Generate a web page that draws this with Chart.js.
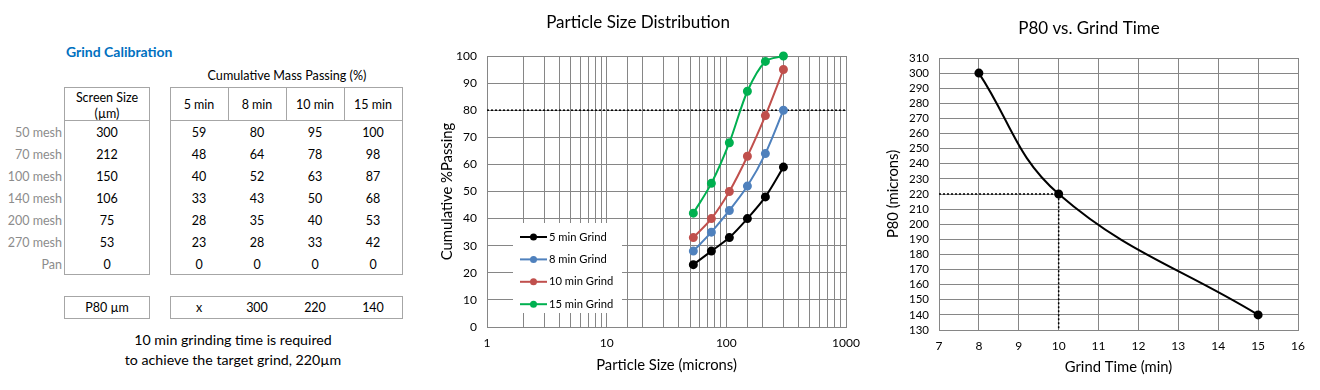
<!DOCTYPE html>
<html>
<head>
<meta charset="utf-8">
<script src="https://cdn.jsdelivr.net/npm/chart.js@4.4.1/dist/chart.umd.min.js"></script>
<style>
  body { margin: 0; background: #fff; font-family: Lato, "Noto Sans", sans-serif; }
  #page { position: relative; width: 1320px; height: 390px; overflow: hidden; }
  .t { position: absolute; white-space: nowrap; font-size: 12.5px; color: #000; }
  .c { transform: translate(-50%, -50%); }
  .r { transform: translate(-100%, -50%); }
  .box { position: absolute; border: 1px solid #a6a6a6; box-sizing: border-box; }
  .vl { position: absolute; width: 1px; background: #a6a6a6; }
  .hl { position: absolute; height: 1px; background: #a6a6a6; }
  canvas { position: absolute; top: 0; }
</style>
</head>
<body>
<div id="page">
  <canvas id="psd" width="440" height="390" style="left:430px"></canvas>
  <canvas id="p80" width="440" height="390" style="left:880px"></canvas>
</div>
<script>
// screens and sizes
const meshLabels = ['50 mesh', '70 mesh', '100 mesh', '140 mesh', '200 mesh', '270 mesh', 'Pan'];
const screenSizes = [300, 212, 150, 106, 75, 53, 0];
const grindTimes = [5, 8, 10, 15];
const grindLabels = ['5 min', '8 min', '10 min', '15 min'];

// cumulative mass passing (%) per grind time, same order as screenSizes
const pass5 = [59, 48, 40, 33, 28, 23, 0];
const pass8 = [80, 64, 52, 43, 35, 28, 0];
const pass10 = [95, 78, 63, 50, 40, 33, 0];
const pass15 = [100, 98, 87, 68, 53, 42, 0];
const passing = [pass5, pass8, pass10, pass15];

// P80 per grind time (5 min never reaches 80%)
const p80Values = [null, 300, 220, 140];
const targetGrind = 220;
const targetTime = 10;
const targetPassing = 80;

const seriesColors = ['#000000', '#4f81bd', '#c0504d', '#00b050'];
const gridColor = '#868686';

// ---------- table ----------
const page = document.getElementById('page');
function txt(s, x, y, cls, style) {
  const d = document.createElement('div');
  d.className = 't ' + cls;
  d.style.left = x + 'px';
  d.style.top = y + 'px';
  if (style) d.style.cssText += style;
  d.innerHTML = s;
  page.appendChild(d);
}
function el(cls, l, t, w, h) {
  const d = document.createElement('div');
  d.className = cls;
  d.style.left = l + 'px'; d.style.top = t + 'px';
  if (w != null) d.style.width = w + 'px';
  if (h != null) d.style.height = h + 'px';
  page.appendChild(d);
}

txt('Grind Calibration', 66, 51, '', 'transform:translateY(-50%);font-weight:bold;font-size:14px;color:#0070c0');
txt('Cumulative Mass Passing (%)', 287, 75, 'c', 'font-size:12.6px');

el('box', 64, 87, 86, 188);
el('box', 170, 87, 233, 188);
el('hl', 64, 120, 86);
el('hl', 170, 120, 233);
const colX = [199, 257, 315, 373];
[228, 286, 344].forEach(x => el('vl', x, 87, null, 33));
txt('Screen Size', 107, 97, 'c');
txt('(&micro;m)', 107, 113, 'c');
grindLabels.forEach((g, i) => txt(g, colX[i], 104, 'c'));

meshLabels.forEach((m, r) => {
  const y = 132 + r * 22;
  txt(m, 62, y, 'r', 'color:#8c8c8c');
  txt(screenSizes[r], 107, y, 'c');
  passing.forEach((s, i) => txt(s[r], colX[i], y, 'c'));
});

el('box', 64, 296, 86, 23);
el('box', 170, 296, 233, 23);
txt('P80 &micro;m', 107, 307, 'c');
p80Values.forEach((v, i) => txt(v == null ? 'x' : v, colX[i], 307, 'c'));

txt(targetTime + ' min grinding time is required', 233, 339, 'c', 'font-size:14.2px');
txt('to achieve the target grind, ' + targetGrind + '&micro;m', 233, 359, 'c', 'font-size:14.2px');

// ---------- charts ----------
Chart.defaults.font.family = 'Lato, "Noto Sans", sans-serif';
Chart.defaults.color = '#000';

const legendInside = {
  id: 'legendInside',
  afterDatasetsDraw(chart) {
    const ctx = chart.ctx;
    const a = chart.chartArea;
    const x0 = a.left + 26, y0 = a.top + 167;
    ctx.save();
    ctx.fillStyle = '#fff';
    ctx.fillRect(x0, y0, 109, 90);
    ctx.font = '11.2px Lato, "Noto Sans", sans-serif';
    ctx.textBaseline = 'middle';
    chart.data.datasets.filter(d => !d.isGuide).forEach((d, i) => {
      const y = y0 + 14 + i * 22.4;
      ctx.strokeStyle = d.borderColor;
      ctx.lineWidth = 2;
      ctx.beginPath(); ctx.moveTo(x0 + 7, y); ctx.lineTo(x0 + 34, y); ctx.stroke();
      ctx.fillStyle = d.borderColor;
      ctx.beginPath(); ctx.arc(x0 + 20.5, y, 3.5, 0, Math.PI * 2); ctx.fill();
      ctx.fillStyle = '#000';
      ctx.fillText(d.label, x0 + 36, y);
    });
    ctx.restore();
  }
};

const psdSets = passing.map((s, i) => ({
  label: grindLabels[i] + ' Grind',
  data: screenSizes.map((x, r) => ({ x: x, y: s[r] })).filter(p => p.x > 0),
  borderColor: seriesColors[i],
  backgroundColor: seriesColors[i],
  borderWidth: 2,
  pointRadius: 3.5,
  tension: 0.3,
  clip: 6
}));
psdSets.push({
  label: 'target',
  isGuide: true,
  data: [{ x: 1, y: targetPassing }, { x: 1000, y: targetPassing }],
  borderColor: '#000',
  borderWidth: 1.5,
  borderDash: [2, 2],
  pointRadius: 0
});

new Chart(document.getElementById('psd'), {
  type: 'line',
  data: { datasets: psdSets },
  options: {
    responsive: false,
    animation: false,
    layout: { padding: { top: 0, right: 24, bottom: 0, left: 0 } },
    plugins: {
      legend: { display: false },
      tooltip: { enabled: false },
      title: { display: true, text: 'Particle Size Distribution', font: { size: 17, weight: 'normal' }, padding: { top: 12, bottom: 23.6 } }
    },
    scales: {
      x: {
        type: 'logarithmic', min: 1, max: 1000,
        grid: { color: gridColor, drawTicks: false },
        border: { color: gridColor },
        ticks: {
          autoSkip: false, maxRotation: 0, padding: 9, font: { size: 12 },
          callback: v => Number.isInteger(Math.log10(v)) ? String(v) : ''
        },
        title: { display: true, text: 'Particle Size (microns)', font: { size: 14.8 }, padding: { top: 0, bottom: 16.2 } },
        afterFit: s => { s.height = 63; }
      },
      y: {
        min: 0, max: 100,
        grid: { color: gridColor, drawTicks: false },
        border: { color: gridColor },
        ticks: { stepSize: 10, padding: 10, autoSkip: false, font: { size: 12 } },
        title: { display: true, text: 'Cumulative %Passing', font: { size: 14.8 }, padding: { top: 8.2, bottom: 0 } },
        afterFit: s => { s.width = 57; }
      }
    }
  },
  plugins: [legendInside]
});

const p80Points = grindTimes.map((t, i) => ({ x: t, y: p80Values[i] })).filter(p => p.y != null);
const xMin = 7, xMax = 16, yMin = 130, yMax = 310;

new Chart(document.getElementById('p80'), {
  type: 'line',
  data: {
    datasets: [
      {
        label: 'P80',
        data: p80Points,
        borderColor: '#000', backgroundColor: '#000',
        borderWidth: 2, pointRadius: 3.5, tension: 0.4, clip: 6
      },
      {
        label: 'target',
        data: [{ x: xMin, y: targetGrind }, { x: targetTime, y: targetGrind }, { x: targetTime, y: yMin }],
        borderColor: '#000', borderWidth: 1.5, borderDash: [2, 2], pointRadius: 0
      }
    ]
  },
  options: {
    responsive: false,
    animation: false,
    layout: { padding: { top: 0, right: 22, bottom: 0, left: 0 } },
    plugins: {
      legend: { display: false },
      tooltip: { enabled: false },
      title: { display: true, text: 'P80 vs. Grind Time', font: { size: 17, weight: 'normal' }, padding: { top: 18.8, bottom: 18.8 } }
    },
    scales: {
      x: {
        type: 'linear', min: xMin, max: xMax,
        grid: { color: gridColor, drawTicks: false },
        border: { color: gridColor },
        ticks: { stepSize: 1, padding: 9, autoSkip: false, font: { size: 12 } },
        title: { display: true, text: 'Grind Time (min)', font: { size: 14.8 }, padding: { top: 0, bottom: 14.2 } },
        afterFit: s => { s.height = 60; }
      },
      y: {
        min: yMin, max: yMax,
        grid: { color: gridColor, drawTicks: false },
        border: { color: gridColor },
        ticks: { stepSize: 10, padding: 10, autoSkip: false, font: { size: 11.5 } },
        title: { display: true, text: 'P80 (microns)', font: { size: 14.8 }, padding: { top: 4.2, bottom: 0 } },
        afterFit: s => { s.width = 59; }
      }
    }
  }
});
</script>
</body>
</html>
